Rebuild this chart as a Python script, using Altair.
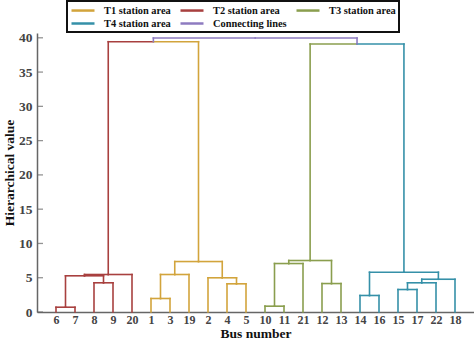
import altair as alt
import pandas as pd

# ---- data ----
leaf_order = ["6", "7", "8", "9", "20", "1", "3", "19", "2", "4", "5",
              "10", "11", "21", "12", "13", "14", "16", "15", "17", "22", "18"]
merge_left = ["6", "8", "c0", "c2", "1", "c4", "4", "2", "c5",
              "10", "c9", "12", "c10",
              "14", "15", "c14", "c15", "c13",
              "c3", "c12", "c18"]
merge_right = ["7", "9", "c1", "20", "3", "19", "5", "c6", "c7",
               "11", "21", "13", "c11",
               "16", "17", "22", "18", "c16",
               "c8", "c17", "c19"]
merge_height = [0.70, 4.26, 5.28, 5.47, 1.97, 5.47, 4.11, 4.99, 7.36,
                0.85, 7.07, 4.15, 7.51,
                2.41, 3.28, 4.26, 4.78, 5.80,
                39.43, 39.10, 39.97]
G1, G2, G3, G4, GC = ("T1 station area", "T2 station area", "T3 station area",
                      "T4 station area", "Connecting lines")
left_arm_group = [G2] * 4 + [G1] * 5 + [G3] * 4 + [G4] * 5 + [G2, G3, GC]
right_arm_group = [G2] * 4 + [G1] * 5 + [G3] * 4 + [G4] * 5 + [G1, G4, GC]

groups = [G1, G2, G3, G4, GC]
group_colors = ["#D2A43C", "#A8403F", "#8A9E4E", "#3590A8", "#8E7BC0"]
y_ticks = [0, 5, 10, 15, 20, 25, 30, 35, 40]

# ---- dendrogram layout from linkage ----
node = {lab: (i + 1.0, 0.0) for i, lab in enumerate(leaf_order)}
rows = []
for k, (l, r, h, lg, rg) in enumerate(zip(merge_left, merge_right, merge_height,
                                          left_arm_group, right_arm_group)):
    xl, yl = node[l]
    xr, yr = node[r]
    xm = (xl + xr) / 2
    rows.append(dict(x=xl, x2=xl, y=yl, y2=h, group=lg))
    rows.append(dict(x=xl, x2=xm, y=h, y2=h, group=lg))
    rows.append(dict(x=xr, x2=xr, y=yr, y2=h, group=rg))
    rows.append(dict(x=xm, x2=xr, y=h, y2=h, group=rg))
    node[f"c{k}"] = (xm, h)
segs = pd.DataFrame(rows)
ticks_df = pd.DataFrame({"v": y_ticks})

label_arr = "[" + ",".join(f"'{s}'" for s in leaf_order) + "]"
FONT = "Liberation Serif"

xscale = alt.Scale(domain=[0, len(leaf_order) + 1], nice=False, zero=False)
yscale = alt.Scale(domain=[0, 40.7], nice=False)

x_axis = alt.Axis(
    values=list(range(1, len(leaf_order) + 1)),
    labelExpr=label_arr + "[datum.value - 1]",
    ticks=False, tickSize=0, grid=False, labelFlush=False, labelOverlap=False,
    domainColor="#666666", domainWidth=1.5,
    labelFont=FONT, labelFontSize=12, labelFontWeight="bold",
    labelColor="#444444", labelPadding=2,
    title="Bus number", titleFont=FONT, titleFontSize=13.5,
    titleFontWeight="bold", titleColor="#111111", titlePadding=1)
y_axis = alt.Axis(
    values=y_ticks, ticks=False, tickSize=0, grid=False, labelOverlap=False,
    domainColor="#666666", domainWidth=1.5,
    labelFont=FONT, labelFontSize=13.5, labelFontWeight="bold",
    labelColor="#444444", labelPadding=5,
    title="Hierarchical value", titleFont=FONT, titleFontSize=13.5,
    titleFontWeight="bold", titleColor="#111111", titlePadding=2)

lines = alt.Chart(segs).mark_rule(strokeWidth=1.6, strokeCap="square").encode(
    x=alt.X("x:Q", scale=xscale, axis=x_axis),
    x2="x2:Q",
    y=alt.Y("y:Q", scale=yscale, axis=y_axis),
    y2="y2:Q",
    color=alt.Color("group:N", scale=alt.Scale(domain=groups, range=group_colors),
                    legend=alt.Legend(
                        title=None, orient="none", legendX=30, legendY=-32,
                        columns=3, direction="horizontal",
                        symbolType="M-1,0H3.6", symbolSize=100, symbolStrokeWidth=2.5,
                        labelFont=FONT, labelFontSize=10.4, labelFontWeight="bold",
                        labelColor="#111111", labelOffset=21, labelLimit=200,
                        columnPadding=4, rowPadding=1, padding=3,
                        strokeColor="#111111", fillColor="white")),
)

tick_marks = alt.Chart(ticks_df).mark_tick(
    orient="horizontal", size=6, thickness=1.3, color="#666666"
).encode(y=alt.Y("v:Q", scale=yscale, axis=y_axis), x=alt.value(3))

chart = alt.layer(lines, tick_marks).properties(
    width=437, height=279,
    autosize=alt.AutoSizeParams(type="none"),
    padding={"left": 37, "top": 33, "right": 0, "bottom": 27},
).configure(font=FONT).configure_view(stroke="transparent").configure_legend(strokeWidth=2)

chart.save("out.html", embed_options={"renderer": "svg", "actions": False})
